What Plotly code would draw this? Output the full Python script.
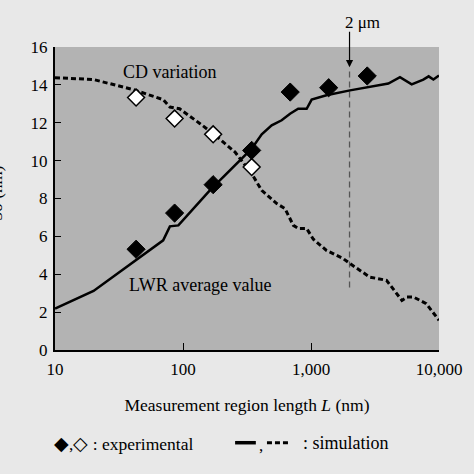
import plotly.graph_objects as go

# Experimental points
exp_L = [43, 86, 172, 344, 688, 1375, 2750]
exp_lwr = [5.32, 7.23, 8.73, 10.54, 13.62, 13.85, 14.47]
exp_cd_L = [43, 86, 172, 344]
exp_cd = [13.33, 12.22, 11.39, 9.66]

# Simulation: LWR average value (solid)
sim_lwr_L = [10, 20, 70, 79, 92, 162, 344, 412, 493, 590, 686, 794, 925, 1012, 1320, 2018,
             4020, 4955, 6120, 7540, 8300, 9040, 10000]
sim_lwr = [2.19, 3.12, 5.79, 6.53, 6.58, 8.43, 10.63, 11.39, 11.86, 12.13, 12.48, 12.74, 12.74,
           13.22, 13.45, 13.71, 14.07, 14.41, 14.03, 14.28, 14.45, 14.28, 14.5]

# Simulation: CD variation (dashed)
sim_cd_L = [10, 20, 41, 70, 79, 94, 136, 172, 255, 344, 412, 540, 626, 728, 800, 925, 1043,
            1320, 1780, 2018, 2880, 3890, 5130, 5620, 6300, 7940, 10000]
sim_cd = [14.38, 14.28, 13.75, 13.22, 12.83, 12.74, 11.95, 11.43, 10.45, 9.31, 8.43, 7.73,
          7.47, 6.58, 6.41, 6.41, 5.85, 5.26, 4.83, 4.56, 3.85, 3.68, 2.62, 2.80, 2.80, 2.45, 1.57]

# 2 um marker line
mark_L = [2000, 2000]
mark_y = [3.3, 14.87]

x_ticks = [10, 100, 1000, 10000]
x_tick_text = ["10", "100", "1,000", "10,000"]
y_ticks = [0, 2, 4, 6, 8, 10, 12, 14, 16]

FONT = "Liberation Serif"

fig = go.Figure()
fig.add_trace(go.Scatter(x=mark_L, y=mark_y, mode="lines",
                         line=dict(color="#555555", width=1.3, dash="6px,4px")))
fig.add_trace(go.Scatter(x=sim_cd_L, y=sim_cd, mode="lines",
                         line=dict(color="black", width=3, dash="5px,3px")))
fig.add_trace(go.Scatter(x=sim_lwr_L, y=sim_lwr, mode="lines",
                         line=dict(color="black", width=2.5)))
fig.add_trace(go.Scatter(x=exp_cd_L, y=exp_cd, mode="markers",
                         marker=dict(symbol="diamond", size=13, color="white",
                                     line=dict(color="black", width=1.5))))
fig.add_trace(go.Scatter(x=exp_L, y=exp_lwr, mode="markers",
                         marker=dict(symbol="diamond", size=14, color="black",
                                     line=dict(color="black", width=1))))

fig.update_layout(
    width=474, height=474,
    margin=dict(l=55, r=35, t=47, b=124, autoexpand=False),
    paper_bgcolor="#e8e8e8",
    plot_bgcolor="#b3b3b3",
    showlegend=False,
    font=dict(family=FONT, size=17, color="black"),
    xaxis=dict(type="log", range=[1, 4], tickvals=x_ticks, ticktext=x_tick_text,
               ticks="inside", ticklen=7, tickcolor="black", tickwidth=1,
               showgrid=False, zeroline=False, showline=True, linecolor="black", linewidth=2,
               tickfont=dict(family=FONT, size=17), ticklabelstandoff=3,
               title=dict(text="Measurement region length <i>L</i> (nm)",
                          font=dict(family=FONT, size=17.5), standoff=20)),
    yaxis=dict(range=[0, 16], tickvals=y_ticks, ticks="inside", ticklen=6,
               tickcolor="black", tickwidth=1,
               showgrid=False, zeroline=False, showline=True, linecolor="black", linewidth=2,
               tickfont=dict(family=FONT, size=17), ticklabelstandoff=2),
)

C = dict(xanchor="center", yanchor="middle")
ann = []
ann.append(dict(x=1.898, y=14.66, xref="x", yref="y", text="CD variation", showarrow=False,
                font=dict(family=FONT, size=18), **C))
ann.append(dict(x=2.137, y=3.42, xref="x", yref="y", text="LWR average value", showarrow=False,
                font=dict(family=FONT, size=18), **C))
ann.append(dict(x=0.802, y=1.0815, xref="paper", yref="paper", text="2 μm", showarrow=False,
                font=dict(family=FONT, size=17), **C))
ann.append(dict(x=3.301, y=0.933, xref="x", yref="paper", text=" ", showarrow=True,
                ax=0, ay=-38, arrowhead=2, arrowsize=1.2, arrowwidth=1.2, arrowcolor="black",
                standoff=0, font=dict(size=2)))
ann.append(dict(x=-0.153, y=0.517, xref="paper", yref="paper", text="3σ (nm)", textangle=-90,
                showarrow=False, font=dict(family=FONT, size=17), **C))
ann.append(dict(x=-0.008, y=-0.308, xref="paper", yref="paper", xanchor="left", yanchor="middle",
                text="<span style='font-size:19px'>◆</span>,<span style='font-size:19px'>◇</span> : experimental",
                showarrow=False, font=dict(family=FONT, size=17.5)))
ann.append(dict(x=0.536, y=-0.315, xref="paper", yref="paper",
                text=",", showarrow=False, font=dict(family=FONT, size=17), **C))
ann.append(dict(x=0.640, y=-0.308, xref="paper", yref="paper", xanchor="left", yanchor="middle",
                text=": simulation", showarrow=False, font=dict(family=FONT, size=18)))
fig.update_layout(annotations=ann)

fig.add_shape(type="line", xref="paper", yref="paper", x0=0.469, x1=0.523, y0=-0.306, y1=-0.306,
              line=dict(color="black", width=3.5))
fig.add_shape(type="line", xref="paper", yref="paper", x0=0.552, x1=0.609, y0=-0.306, y1=-0.306,
              line=dict(color="black", width=3, dash="5px,3px"))

fig.write_html("out.html")
